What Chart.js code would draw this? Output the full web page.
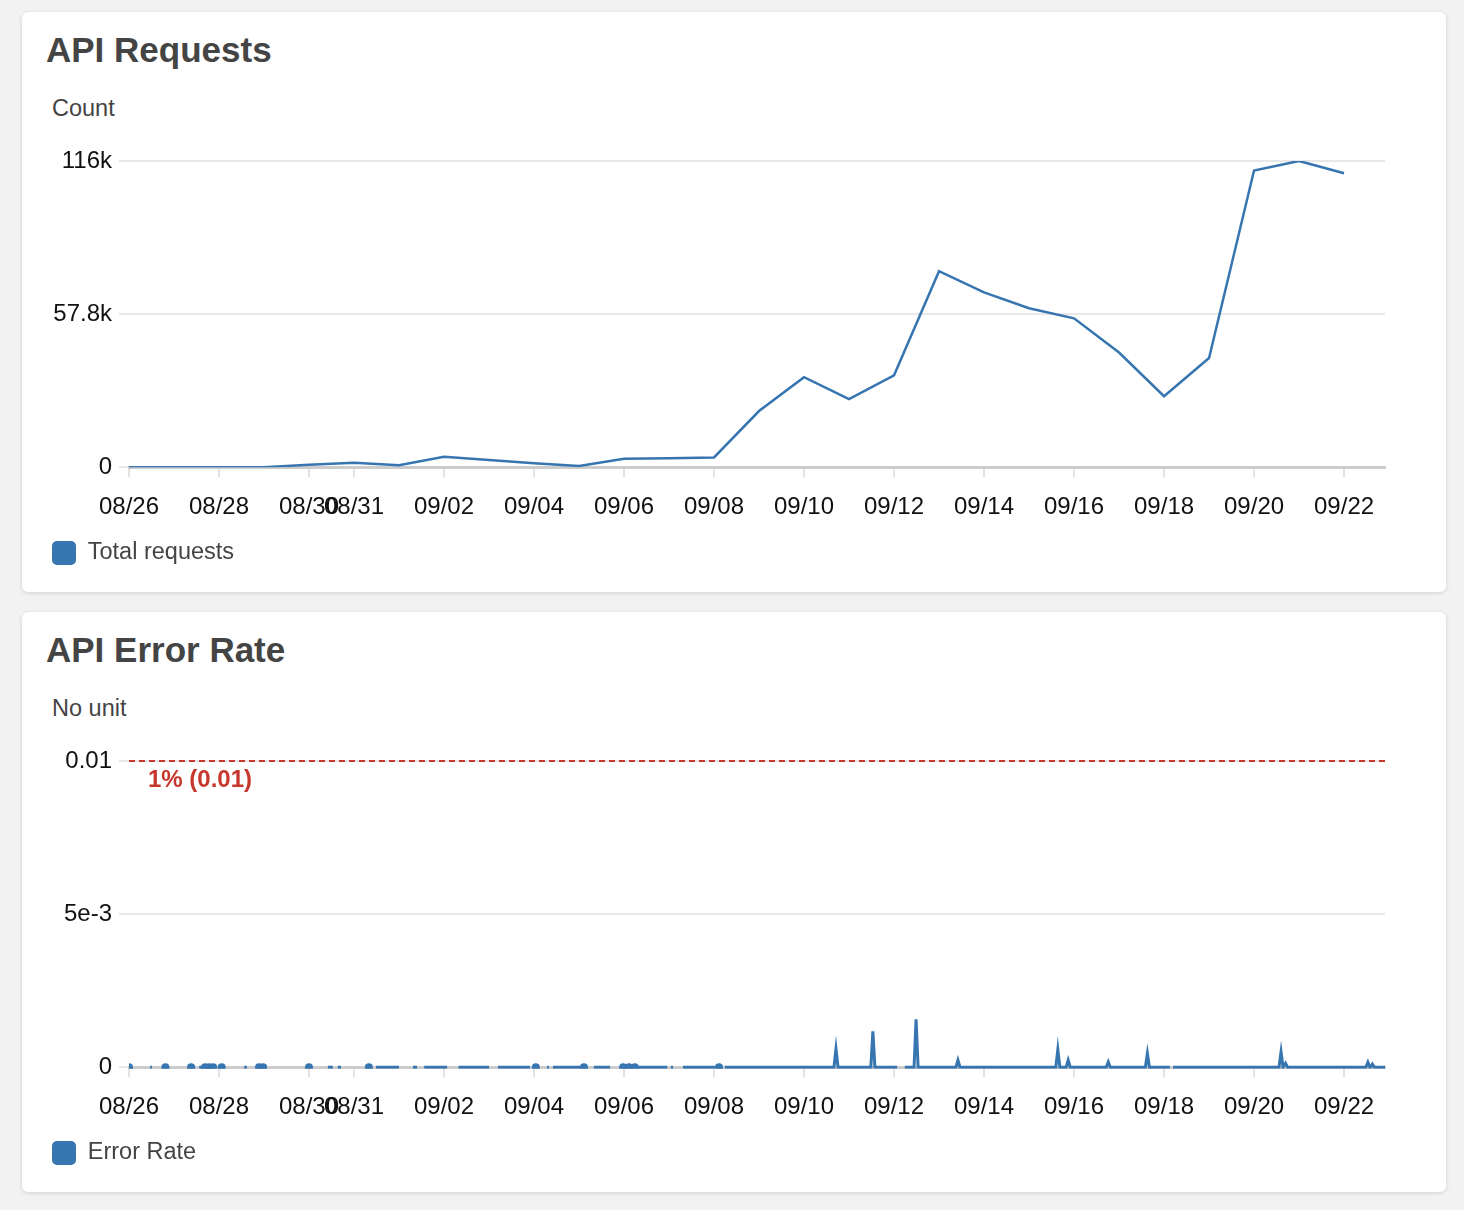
<!DOCTYPE html>
<html>
<head>
<meta charset="utf-8">
<title>API metrics</title>
<script src="https://cdn.jsdelivr.net/npm/chart.js@4.4.0/dist/chart.umd.min.js"></script>
<style>
  body { margin: 0; width: 1464px; height: 1210px; background: #f2f2f2; font-family: "Liberation Sans", Arial, Helvetica, sans-serif; }
  .card { position: absolute; left: 22px; width: 1424px; height: 580px; background: #fff; border-radius: 6px; box-shadow: 0 1px 4px rgba(0,0,0,0.14); }
  .card h2 { position: absolute; left: 24px; top: 18px; margin: 0; font-size: 35px; line-height: 40px; font-weight: bold; color: #444; }
  .unit { position: absolute; left: 30px; top: 82px; font-size: 23.5px; line-height: 28px; color: #444; }
  .card canvas { position: absolute; left: 10px; top: 120px; }
</style>
</head>
<body>
<div class="card" style="top:12px">
  <h2>API Requests</h2>
  <div class="unit">Count</div>
  <canvas id="requestsChart" width="1370" height="443"></canvas>
</div>
<div class="card" style="top:612px">
  <h2>API Error Rate</h2>
  <div class="unit">No unit</div>
  <canvas id="errorChart" width="1370" height="443"></canvas>
</div>
<script>
// --- data (x = days since 08/26) ---
const tickDays = [0, 2, 4, 5, 7, 9, 11, 13, 15, 17, 19, 21, 23, 25, 27];
const tickLabels = ['08/26', '08/28', '08/30', '08/31', '09/02', '09/04', '09/06', '09/08',
                    '09/10', '09/12', '09/14', '09/16', '09/18', '09/20', '09/22'];
const xEnd = 27.91;

// daily totals, 08/26 .. 09/22
const requestCounts = [0, 0, 0, 0, 900, 1660, 760, 3900, 2700, 1500, 500, 3200, 3400, 3700,
                       21200, 34000, 25700, 34700, 74000, 66000, 60000, 56200, 43300, 26800,
                       41200, 112000, 115600, 111000];
const requestTickValues = [0, 57800, 115600];
const requestTickLabels = ['0', '57.8k', '116k'];

// error rate: stretches with data (value 0), lone points, and spikes
const errorSegments = [
  [0.47, 0.51], [1.56, 1.62], [2.56, 2.62], [4.42, 4.53], [4.64, 4.71], [5.49, 6.0],
  [6.31, 6.4], [6.56, 7.07], [7.32, 8.0], [8.2, 8.91], [9.29, 9.33], [9.42, 10.06],
  [10.33, 10.69], [11.29, 11.96], [12.04, 12.09], [12.31, 13.02], [13.24, 17.07],
  [17.24, 23.13], [23.2, 27.91]
];
const errorDots = [0, 0.81, 1.38, 1.69, 1.78, 1.87, 2.06, 2.89, 2.98, 4.0, 5.33,
                   9.04, 10.11, 10.98, 11.11, 11.24, 13.11];
const errorSpikes = [
  [15.71, 0.0006], [16.53, 0.00117], [17.49, 0.00156], [18.42, 0.00023],
  [20.64, 0.00058], [20.87, 0.00023], [21.76, 0.00017], [22.63, 0.00045],
  [25.6, 0.0005], [25.7, 0.00013], [27.53, 0.00016], [27.63, 0.0001]
];
const errorTickValues = [0, 0.005, 0.01];
const errorTickLabels = ['0', '5e-3', '0.01'];
const thresholdValue = 0.01;
const thresholdLabel = '1% (0.01)';

// --- styles ---
const BLUE = '#3775b1';
const RED = '#c8372d';
const FONT = '"Liberation Sans", Arial, Helvetica, sans-serif';
Chart.defaults.font.family = FONT;
Chart.defaults.animation = false;

// build the error series: each stretch/point is a group, groups split by nulls
const spikeHalf = 0.045;
const groups = [];
errorDots.forEach(d => groups.push([{ x: d, y: 0, dot: true }]));
errorSegments.forEach(([a, b]) => {
  const pts = [{ x: a, y: 0 }];
  errorSpikes.filter(([d]) => d > a && d < b).forEach(([d, v]) => {
    pts.push({ x: d - spikeHalf, y: 0 }, { x: d, y: v }, { x: d + spikeHalf, y: 0 });
  });
  pts.push({ x: b, y: 0 });
  pts.sort((p, q) => p.x - q.x);
  groups.push(pts);
});
groups.sort((p, q) => p[0].x - q[0].x);
const errorData = [];
groups.forEach(g => errorData.push(...g, { x: g[g.length - 1].x, y: null }));

function xScale() {
  return {
    type: 'linear', min: 0, max: xEnd,
    afterBuildTicks: s => { s.ticks = tickDays.map(v => ({ value: v })); },
    afterFit: s => { s.height -= 17; }, // pull the legend up closer to the labels
    ticks: { autoSkip: false, maxRotation: 0, padding: 16, color: '#111', font: { size: 24 },
             callback: (v, i) => tickLabels[i] },
    grid: { drawOnChartArea: false, drawTicks: true, tickLength: 10, color: '#e2e2e2', lineWidth: 2 },
    border: { display: true, color: '#cccccc', width: 3 }
  };
}

function yScale(max, values, labels) {
  return {
    min: 0, max: max,
    afterBuildTicks: s => { s.ticks = values.map(v => ({ value: v })); },
    afterFit: s => { s.width = 97; },
    ticks: { padding: 7, color: '#111', font: { size: 24 }, callback: (v, i) => labels[i] },
    grid: { color: '#e8e8e8', lineWidth: 2, tickLength: 10 },
    border: { display: false }
  };
}

function legendOpts() {
  return {
    position: 'bottom', align: 'start',
    labels: {
      boxWidth: 24, boxHeight: 24, useBorderRadius: true, borderRadius: 5, padding: 20,
      color: '#444', font: { size: 23.5 },
      generateLabels: chart => Chart.defaults.plugins.legend.labels.generateLabels(chart)
        .filter(item => item.text !== '')
        .map(item => Object.assign(item, { lineWidth: 0 }))
    }
  };
}

// --- chart 1: requests ---
new Chart(document.getElementById('requestsChart'), {
  type: 'line',
  data: {
    datasets: [{
      label: 'Total requests',
      data: requestCounts.map((v, i) => ({ x: i, y: v })),
      borderColor: BLUE, backgroundColor: BLUE, borderWidth: 2.5,
      pointRadius: 0, tension: 0, fill: false
    }]
  },
  options: {
    responsive: false,
    layout: { padding: { top: 29, right: 17, bottom: 0, left: 0 } },
    plugins: { legend: legendOpts(), tooltip: { enabled: false } },
    scales: { x: xScale(), y: yScale(115600, requestTickValues, requestTickLabels) }
  }
});

// --- chart 2: error rate with 1% threshold ---
const thresholdLabelPlugin = {
  id: 'thresholdLabel',
  afterDatasetsDraw(chart) {
    const { ctx, scales: { x, y } } = chart;
    ctx.save();
    ctx.fillStyle = RED;
    ctx.font = 'bold 24px ' + FONT;
    ctx.textBaseline = 'middle';
    ctx.fillText(thresholdLabel, x.getPixelForValue(0) + 19, y.getPixelForValue(thresholdValue) + 19);
    ctx.restore();
  }
};

new Chart(document.getElementById('errorChart'), {
  type: 'line',
  data: {
    datasets: [{
      label: 'Error Rate',
      data: errorData,
      borderColor: BLUE, backgroundColor: BLUE, borderWidth: 3,
      pointRadius: c => (c.raw && c.raw.dot ? 4 : 0),
      pointBackgroundColor: BLUE, pointBorderWidth: 0,
      spanGaps: false, tension: 0, fill: false,
      clip: { left: 0, top: 10, right: 0, bottom: 1.5 }
    }, {
      label: '',
      data: [{ x: 0, y: thresholdValue }, { x: xEnd, y: thresholdValue }],
      borderColor: RED, borderWidth: 2, borderDash: [6, 4],
      pointRadius: 0, fill: false, clip: 5
    }]
  },
  options: {
    responsive: false,
    layout: { padding: { top: 29, right: 17, bottom: 0, left: 0 } },
    plugins: { legend: legendOpts(), tooltip: { enabled: false } },
    scales: { x: xScale(), y: yScale(0.01, errorTickValues, errorTickLabels) }
  },
  plugins: [thresholdLabelPlugin]
});
</script>
</body>
</html>
